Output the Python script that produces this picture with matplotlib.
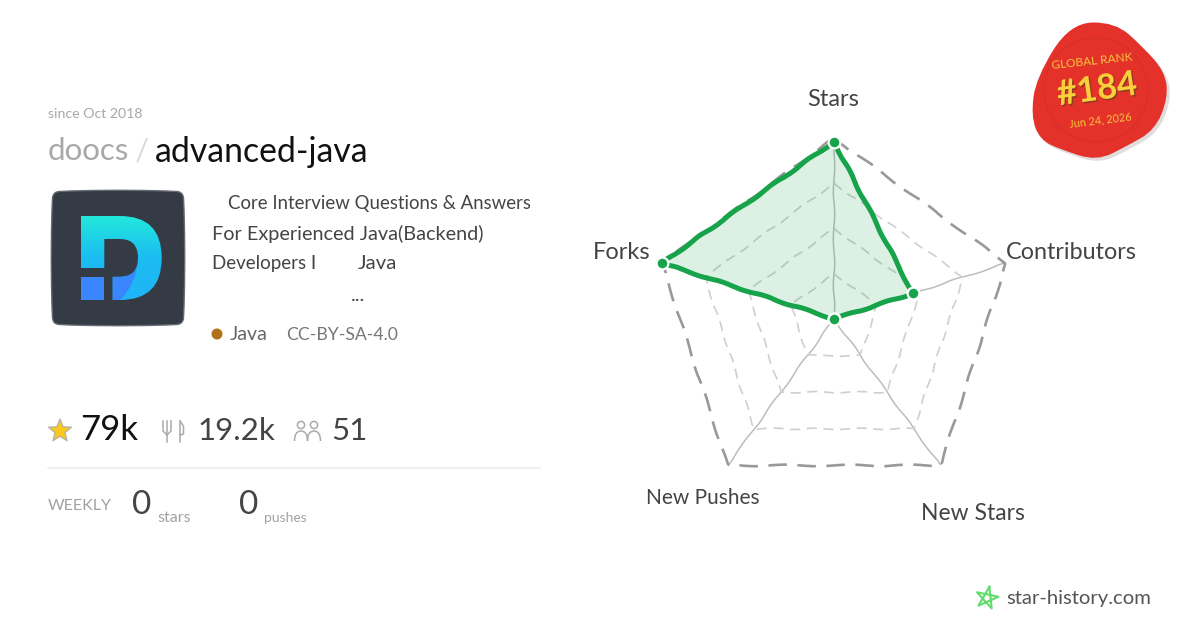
import numpy as np
import matplotlib
matplotlib.use('Agg')
import matplotlib.pyplot as plt
import matplotlib.patheffects as pe
from matplotlib.path import Path
from matplotlib.patches import PathPatch, Circle, Polygon

plt.rcParams['font.family'] = ['Lato', 'DejaVu Sans']

# Radar data
categories = ['Stars', 'Contributors', 'New Stars', 'New Pushes', 'Forks']
values = [0.98, 0.457, 0.0, 0.0, 1.0]
ring_levels = [0.25, 0.5, 0.75]

# Card text
since = 'since Oct 2018'
owner = 'doocs'
repo = 'advanced-java'
language = 'Java'
license_name = 'CC-BY-SA-4.0'
stars = '79k'
forks = '19.2k'
contributors = '51'
weekly_stars = '0'
weekly_pushes = '0'
rank = '#184'
rank_date = 'Jun 24, 2026'

GREEN = '#16a34a'
DARK = '#444444'
GRAY = '#a3a3a3'

fig = plt.figure(figsize=(12, 6.3), dpi=100, facecolor='white')

# Full figure axes in pixel units for the card around the chart
ax = fig.add_axes([0, 0, 1, 1])
ax.set_xlim(0, 1200)
ax.set_ylim(630, 0)
ax.axis('off')


def smooth_blob(points):
    # closed outline, quadratic curves through the midpoints
    pts = np.array(points, dtype=float)
    mids = (pts + np.roll(pts, -1, axis=0)) / 2
    verts = [mids[-1]]
    codes = [Path.MOVETO]
    for p, m in zip(pts, mids):
        verts += [p, m]
        codes += [Path.CURVE3, Path.CURVE3]
    return Path(verts, codes)


def label(x, y, s, size, color=DARK, ha='left', **kw):
    return ax.text(x, y + 1.5, s, fontsize=size, color=color, ha=ha, va='center', **kw)


# Header
label(48, 113, since, 10.2, '#a8a8a8')
label(48, 150, owner, 22.5, '#a8a8a8')
label(135, 150, '/', 22.5, '#dddddd')
label(155, 150, repo, 24.3, '#111111')

# Logo
logo_box = smooth_blob([(53, 192), (65, 191), (118, 190), (171, 191), (183, 192),
                        (184, 204), (185, 258), (184, 312), (183, 324),
                        (171, 325), (118, 326), (65, 325), (53, 324),
                        (52, 312), (51, 258), (52, 204)])
ax.add_patch(PathPatch(logo_box, fc='#343b45', ec='#666b72', lw=1, zorder=2))
d_path = Path(
    [(81, 216), (120, 216), (161.7, 216), (161.7, 258), (161.7, 300), (120, 300),
     (112.7, 300), (112.7, 276.7), (120, 276.7), (138, 276.7), (138, 258),
     (138, 239), (120, 239), (104.3, 239), (104.3, 268), (81, 268), (81, 216)],
    [Path.MOVETO, Path.LINETO, Path.CURVE3, Path.CURVE3, Path.CURVE3, Path.CURVE3,
     Path.LINETO, Path.LINETO, Path.LINETO, Path.CURVE3, Path.CURVE3, Path.CURVE3,
     Path.CURVE3, Path.LINETO, Path.LINETO, Path.LINETO, Path.CLOSEPOLY])
gradient = np.linspace(0, 1, 100).reshape(-1, 1)
cmap = matplotlib.colors.LinearSegmentedColormap.from_list('d', ['#22e8dc', '#1cbcf2', '#1fb4f7'])
img = ax.imshow(gradient, extent=(81, 162, 300, 216), cmap=cmap, aspect='auto', zorder=3)
img.set_clip_path(PathPatch(d_path, transform=ax.transData))
ax.set_xlim(0, 1200)
ax.set_ylim(630, 0)
ax.add_patch(Polygon([(81, 277), (104.3, 277), (104.3, 300), (81, 300)], fc='#3a86ff', zorder=4))
blue_tail = Path([(112.7, 277), (120, 277), (138, 277), (138, 258), (136, 285), (120, 300),
                  (112.7, 300), (112.7, 277)],
                 [Path.MOVETO, Path.LINETO, Path.CURVE3, Path.CURVE3, Path.CURVE3, Path.CURVE3,
                  Path.LINETO, Path.CLOSEPOLY])
ax.add_patch(PathPatch(blue_tail, fc='#3a86ff', ec='none', zorder=4))

# Description
label(228, 202, 'Core Interview Questions & Answers', 13.45)
label(212, 232, 'For Experienced Java(Backend)', 14.3)
label(212, 262, 'Developers I', 13.5)
label(358, 262, 'Java', 14.6)
label(358, 294, '...', 14.6, ha='center')
ax.add_patch(Circle((217, 334), 5.5, fc='#b07219', ec='none'))
label(230, 333, language, 14, '#666666')
label(286, 333, license_name, 12.7, '#777777')

# Stats row
star_a = np.deg2rad(np.arange(-90, 270, 36))
star_r = np.where(np.arange(10) % 2 == 0, 12, 5.2)
ax.add_patch(Polygon(np.c_[60 + star_r * np.cos(star_a), 431 + star_r * np.sin(star_a)],
                     fc='#fbc91a', ec='#b5b5a5', lw=1, joinstyle='round'))
label(80, 429, stars, 25, '#111111')
# fork and knife icon
ax.plot([163, 163, 167, 171, 171], [421, 431, 435, 431, 421], color='#aaaaaa', lw=1.1)
ax.plot([167, 167], [421, 442], color='#aaaaaa', lw=1.1)
ax.plot([180, 180], [421, 442], color='#aaaaaa', lw=1.1)
ax.plot([180, 183.5, 183.5, 180], [421, 426, 434, 435], color='#aaaaaa', lw=1.1)
label(197, 429, forks, 22.5)
# people icon
for cx in (301, 314):
    ax.add_patch(Circle((cx, 425), 3.6, fc='none', ec='#aaaaaa', lw=1.1))
    ax.add_patch(PathPatch(Path([(cx - 6.5, 441), (cx - 6.5, 431), (cx, 431), (cx + 6.5, 431), (cx + 6.5, 441)],
                                [Path.MOVETO, Path.CURVE3, Path.CURVE3, Path.CURVE3, Path.CURVE3]),
                           fc='none', ec='#aaaaaa', lw=1.1))
label(331, 429, contributors, 22.5)
ax.plot([48, 540], [467.5, 467.5], color='#eeeeee', lw=1.2)

# Weekly row
label(48, 504, 'WEEKLY', 11.5, '#a0a0a0')
label(132, 504, weekly_stars, 24)
label(157, 517, 'stars', 11.5, GRAY)
label(239, 504, weekly_pushes, 24)
label(264, 517, 'pushes', 10, GRAY)

# Rank seal
seal = [(1070, 23), (1115, 22), (1143, 47), (1165, 72), (1168, 98), (1155, 130),
        (1127, 146), (1097, 161), (1062, 150), (1040, 140), (1031, 116), (1036, 78)]
shadow = PathPatch(smooth_blob(seal), fc='#e2dcdc', ec='none', zorder=2)
shadow.set_transform(matplotlib.transforms.Affine2D().translate(3, 3) + ax.transData)
ax.add_patch(shadow)
ax.add_patch(PathPatch(smooth_blob(seal), fc='#e4322b', ec='none', zorder=3))
ax.add_patch(Circle((1096, 90), 52, fc='none', ec='#d92f29', lw=1, zorder=4))

seal_fx = [pe.withSimplePatchShadow(offset=(1, -1), shadow_rgbFace='#8e3a1a', alpha=1)]
ax.text(1092, 61, 'GLOBAL RANK', fontsize=8.6, color='#f5c33b', ha='center', va='center',
        rotation=6, zorder=5)
ax.text(1097, 90, rank, fontsize=25, color='#f9cf3c', ha='center', va='center', rotation=8,
        fontweight='bold', zorder=5, path_effects=seal_fx)
ax.text(1100, 120, rank_date, fontsize=7.8, color='#f5c33b', ha='center', va='center', rotation=7, zorder=5)

# Footer
foot_a = np.deg2rad(-78 + 144 * np.arange(6))
ax.plot(987 + 11.5 * np.cos(foot_a), 598 + 11.5 * np.sin(foot_a), color='#62dc6e', lw=1.5,
        solid_joinstyle='round')
label(1006, 597, 'star-history.com', 14.6, '#555555')

# Axis labels for the radar
label(833, 98, categories[0], 17, ha='center')
label(1006, 251, categories[1], 16.8)
label(973, 512, categories[2], 16.5, ha='center')
label(703, 497, categories[3], 15, ha='center')
label(593, 251, categories[4], 17)

# Radar chart
radar = fig.add_axes([(834 - 181) / 1200, (630 - 319 - 181) / 630, 362 / 1200, 362 / 630],
                     projection='polar')
radar.set_theta_zero_location('N')
radar.set_theta_direction(-1)
radar.set_ylim(0, 1)
radar.patch.set_alpha(0)
radar.axis('off')

angles = np.linspace(0, 2 * np.pi, len(categories), endpoint=False)
closed_angles = np.append(angles, angles[0])
closed_values = values + values[:1]

wobble = (0.7, 50, 2)
for a in angles:
    line, = radar.plot([a, a], [0, 1], color='#bdbdbd', lw=1.1, zorder=1)
    line.set_sketch_params(*wobble)
for level in ring_levels:
    line, = radar.plot(closed_angles, [level] * len(closed_angles), color='#cfcfcf', lw=1.2,
                       dashes=(6, 4), zorder=1)
    line.set_sketch_params(*wobble)
line, = radar.plot(closed_angles, [1] * len(closed_angles), color='#999999', lw=1.9,
                   dashes=(7, 4), zorder=2)
line.set_sketch_params(0.8, 70, 2)

fill = radar.fill(closed_angles, closed_values, color=GREEN, alpha=0.15, lw=0, zorder=3)[0]
fill.set_sketch_params(*wobble)
line, = radar.plot(closed_angles, closed_values, color=GREEN, lw=3.6, zorder=4,
                   solid_joinstyle='round')
line.set_sketch_params(*wobble)
radar.plot(angles, values, 'o', ms=8.5, mfc=GREEN, mec='white', mew=1.6, zorder=5, clip_on=False)

fig.savefig('out.png', dpi=100)
